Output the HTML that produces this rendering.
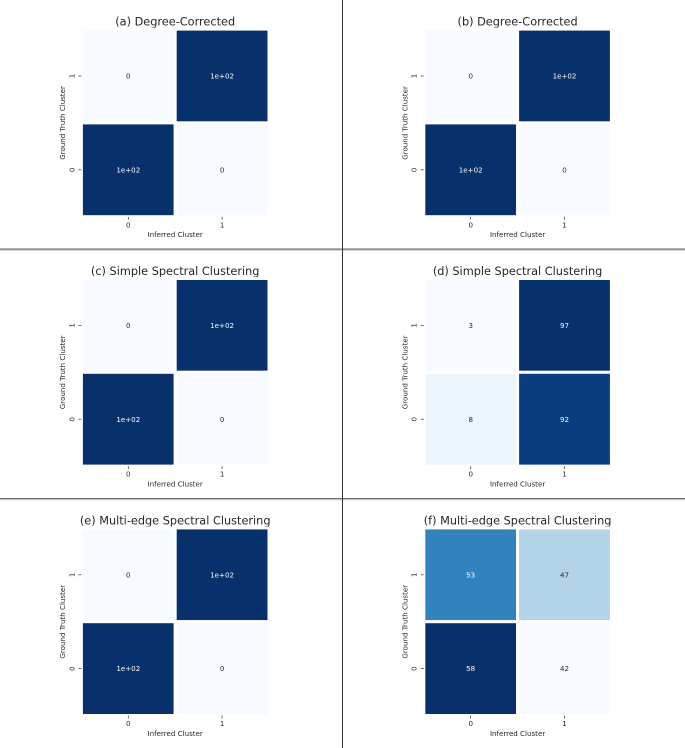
<!DOCTYPE html>
<html>
<head>
<meta charset="utf-8">
<title>Confusion matrices</title>
<style>
html,body{margin:0;padding:0;background:#fff;width:685px;height:748px;overflow:hidden}
svg{display:block;filter:blur(0.35px)}
text{font-family:"DejaVu Sans","Liberation Sans",sans-serif;fill:#262626}
</style>
</head>
<body>
<svg id="figure" width="685" height="748" viewBox="0 0 685 748" xmlns="http://www.w3.org/2000/svg">
<rect x="0" y="250" width="685" height="1" fill="#dddddd"/>
<rect x="0" y="499.5" width="685" height="1" fill="#dddddd"/>
<rect x="0" y="248.6" width="685" height="1" fill="#444444"/>
<rect x="0" y="498.2" width="685" height="1" fill="#444444"/>
<rect x="342" y="0" width="1" height="748" fill="#333333"/>
</svg>
<script>
var panelTitles = ["(a) Degree-Corrected", "(b) Degree-Corrected", "(c) Simple Spectral Clustering", "(d) Simple Spectral Clustering", "(e) Multi-edge Spectral Clustering", "(f) Multi-edge Spectral Clustering"];
var xCategories = ["0", "1"];
var yCategories = ["1", "0"];
var valuesA = [[0, 100], [100, 0]];
var valuesB = [[0, 100], [100, 0]];
var valuesC = [[0, 100], [100, 0]];
var valuesD = [[3, 97], [8, 92]];
var valuesE = [[0, 100], [100, 0]];
var valuesF = [[53, 47], [58, 42]];
var panelValues = [valuesA, valuesB, valuesC, valuesD, valuesE, valuesF];
var xAxisTitle = "Inferred Cluster";
var yAxisTitle = "Ground Truth Cluster";
var blues = ["#f7fbff", "#deebf7", "#c6dbef", "#9ecae1", "#6baed6", "#4292c6", "#2171b5", "#08519c", "#08306b"];

var NS = "http://www.w3.org/2000/svg";
var svg = document.getElementById("figure");

function hexToRgb(h) {
  return [parseInt(h.substr(1, 2), 16), parseInt(h.substr(3, 2), 16), parseInt(h.substr(5, 2), 16)];
}
function colorAt(t) {
  var p = Math.max(0, Math.min(1, t)) * (blues.length - 1);
  var i = Math.min(Math.floor(p), blues.length - 2);
  var f = p - i;
  var a = hexToRgb(blues[i]);
  var b = hexToRgb(blues[i + 1]);
  return [0, 1, 2].map(function (k) { return Math.round(a[k] + (b[k] - a[k]) * f); });
}
function luminance(c) {
  var l = c.map(function (v) {
    var s = v / 255;
    return s <= 0.03928 ? s / 12.92 : Math.pow((s + 0.055) / 1.055, 2.4);
  });
  return 0.2126 * l[0] + 0.7152 * l[1] + 0.0722 * l[2];
}
function formatValue(v) {
  if (v >= 100) {
    var exp = Math.floor(Math.log10(v));
    var man = v / Math.pow(10, exp);
    return (Math.round(man * 10) / 10) + "e+" + (exp < 10 ? "0" + exp : exp);
  }
  return String(v);
}
function make(tag, attrs, text) {
  var el = document.createElementNS(NS, tag);
  Object.keys(attrs).forEach(function (k) { el.setAttribute(k, attrs[k]); });
  if (text !== undefined) el.textContent = text;
  return el;
}

var plotSize = 187.6;
var originX = 81.4;
var originY = 29.1;
var columnPitch = 342.4;
var rowPitch = 249.4;
var labelSize = 7.1;

panelValues.forEach(function (values, idx) {
  var col = idx % 2;
  var row = Math.floor(idx / 2);
  var left = originX + col * columnPitch;
  var top = originY + row * rowPitch;
  var cellW = plotSize / xCategories.length;
  var cellH = plotSize / yCategories.length;
  var xScale = function (i) { return left + i * cellW; };
  var yScale = function (j) { return top + j * cellH; };
  var flat = values[0].concat(values[1]);
  var vmin = Math.min.apply(null, flat);
  var vmax = Math.max.apply(null, flat);
  var suffix = String.fromCharCode(97 + idx);

  var group = make("g", {});
  
  
  svg.appendChild(group);

  var title = make("text", { x: left + plotSize / 2, y: top - 3.6, "text-anchor": "middle", "font-size": 11.3 }, panelTitles[idx]);
  
  
  group.appendChild(title);

  values.forEach(function (rowVals, j) {
    rowVals.forEach(function (v, i) {
      var c = colorAt((v - vmin) / (vmax - vmin));
      var cell = make("rect", {
        x: xScale(i), y: yScale(j), width: cellW, height: cellH,
        fill: "rgb(" + c.join(",") + ")", stroke: "#ffffff", "stroke-width": 3
      });
      
      
      group.appendChild(cell);

      var note = make("text", {
        x: xScale(i) + cellW / 2, y: yScale(j) + cellH / 2 + 2.6,
        "text-anchor": "middle", "font-size": labelSize
      }, formatValue(v));
      note.style.fill = luminance(c) < 0.408 ? "#ffffff" : "#262626";
      
      
      group.appendChild(note);
    });
  });

  xCategories.forEach(function (label, i) {
    var cx = xScale(i) + cellW / 2;
    var bottom = top + plotSize;
    var tick = make("line", { x1: cx, x2: cx, y1: bottom, y2: bottom + 3, stroke: "#333333", "stroke-width": 0.7 });
    
    
    group.appendChild(tick);

    var tickLabel = make("text", { x: cx, y: bottom + 10.6, "text-anchor": "middle", "font-size": labelSize }, label);
    
    
    group.appendChild(tickLabel);
  });

  yCategories.forEach(function (label, j) {
    var cy = yScale(j) + cellH / 2;
    var tick = make("line", { x1: left - 3, x2: left, y1: cy, y2: cy, stroke: "#333333", "stroke-width": 0.7 });
    
    
    group.appendChild(tick);

    var lx = left - 7.1;
    var tickLabel = make("text", { x: lx, y: cy, "text-anchor": "middle", "font-size": labelSize, transform: "rotate(-90 " + lx + " " + cy + ")" }, label);
    
    
    group.appendChild(tickLabel);
  });

  var xTitle = make("text", { x: left + plotSize / 2, y: top + plotSize + 20.4, "text-anchor": "middle", "font-size": labelSize }, xAxisTitle);
  
  
  group.appendChild(xTitle);

  var ty = top + plotSize / 2;
  var tx = left - 16.2;
  var yTitle = make("text", { x: tx, y: ty, "text-anchor": "middle", "font-size": labelSize, transform: "rotate(-90 " + tx + " " + ty + ")" }, yAxisTitle);
  
  
  group.appendChild(yTitle);
});
</script>
</body>
</html>
